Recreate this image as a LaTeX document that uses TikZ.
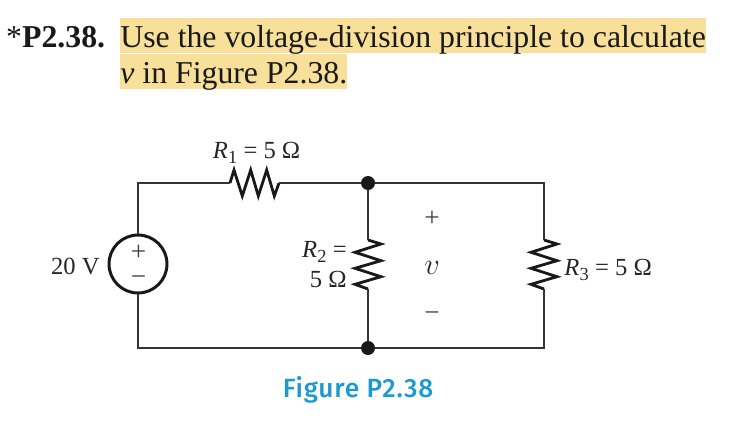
\documentclass[tikz,border=0pt]{standalone}
\usepackage{fontspec}
\setmainfont{Liberation Serif}
\newfontfamily\capfont[LetterSpace=3]{Fira Sans Medium}
\usepackage{xcolor}
\definecolor{hlcolor}{HTML}{F8E09B}
\definecolor{capblue}{HTML}{1B9AD0}
\usetikzlibrary{positioning}
\newcommand{\Rname}[1]{\textit{R}\kern0.2pt\raisebox{-3.2pt}{\fontsize{10.5}{11}\selectfont #1}}
\begin{document}
\begin{tikzpicture}[x=0.02cm,y=-0.02cm]
	\tikzstyle{wire} = [line width=1.15pt, draw=black!80, line join=miter]
	\tikzstyle{junction} = [circle, fill=black!90, inner sep=0, minimum size=0.28cm]
	\tikzstyle{source} = [circle, draw=black!90, line width=1.7pt, inner sep=0, minimum size=1.16cm]
	\tikzstyle{label} = [inner sep=0, font=\fontsize{14}{16}\selectfont, text=black!85]
	\tikzstyle{sign} = [inner sep=0, font=\fontsize{15.5}{17}\selectfont, text=black!75]
	\tikzstyle{headline} = [inner xsep=0, inner ysep=0, font=\fontsize{18.1}{20}\selectfont, text=black!90]
	\tikzstyle{highlight} = [headline, fill=hlcolor, text height=16.4pt, text depth=3.6pt]
	\tikzset{zig/.pic={
		\coordinate (-a) at (0,0);
		\coordinate (-b) at (49,0);
		\draw [line width=1.6pt, draw=black!90, line join=miter] (-a) -- (4,-13) -- (12.3,13) -- (20.7,-13) -- (28.3,13) -- (36.7,-13) -- (44.3,13) -- (-b);
	}}
	\useasboundingbox (0,0) rectangle (739,440);

	\node [highlight, anchor=base west] (v1) at (120,47) {Use the voltage-division principle to calculate};
	\node [highlight, anchor=base west] (v2) at (120,83) {\textit{v} in Figure P2.38.};
	\node [headline, anchor=base east] (v3) at (105.5,47) {*\textbf{P2.38.}};

	\node [source] (v4) at (138,264) {};
	\node [junction] (v5) at (368,183) {};
	\node [junction] (v6) at (368,348) {};
	\coordinate (v7) at (544,183);
	\coordinate (v8) at (544,348);
	\pic (r1) at (230,183) {zig};
	\pic [rotate=-90] (r2) at (368,240) {zig};
	\pic [rotate=-90] (r3) at (544,240) {zig};

	\draw [wire] (v4) |- (r1-a);
	\draw [wire] (r1-b) -- (v5);
	\draw [wire] (v5) -- (r2-a);
	\draw [wire] (r2-b) -- (v6);
	\draw [wire] (v5) -- (v7) -- (r3-a);
	\draw [wire] (r3-b) -- (v8) -- (v6);
	\draw [wire] (v6) -| (v4);

	\node [sign] (v9) at (138.5,252.5) {+};
	\node [sign] (v10) at (138.5,281) {−};
	\node [label, anchor=base] (v11) at (256.5,158) {\Rname{1} = 5 Ω};
	\node [label, anchor=base east] (v12) at (100,274) {20 V};
	\node [label, anchor=base east] (v13) at (347,257) {\Rname{2} =};
	\node [label, anchor=base east] (v14) at (347,287) {5 Ω};
	\node [label, anchor=base west] (v15) at (564,275) {\Rname{3} = 5 Ω};
	\node [sign] (v16) at (432,219) {+};
	\node [label, font=\fontsize{17}{18}\selectfont] (v17) at (432,268) {$v$};
	\node [sign] (v18) at (432,316.5) {−};
	\node [inner sep=0, anchor=base, text=capblue, font=\capfont\fontsize{15}{16}\selectfont] (v19) at (358,397) {Figure P2.38};
\end{tikzpicture}
\end{document}
